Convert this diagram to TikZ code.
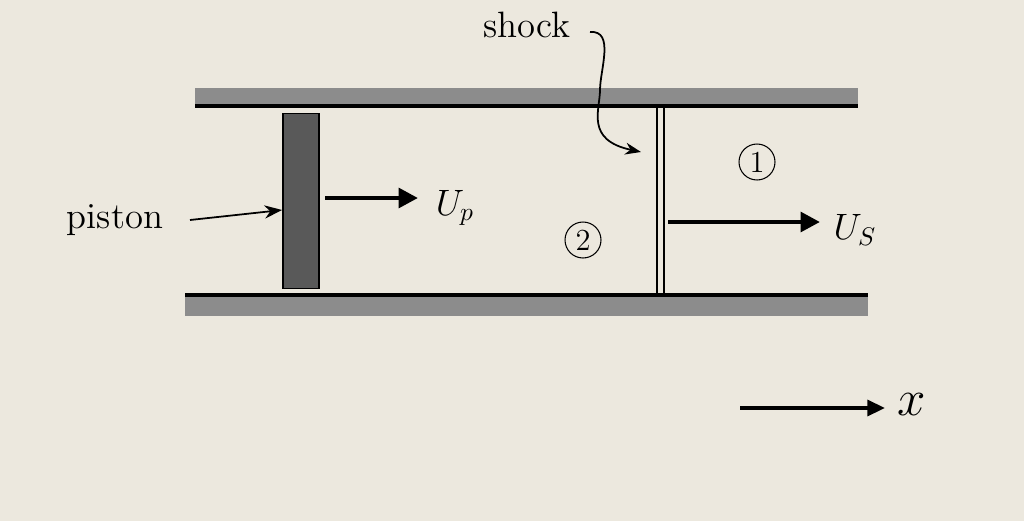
\documentclass[tikz,border=0pt]{standalone}
\usetikzlibrary{arrows.meta}
\begin{document}
\begin{tikzpicture}[x=0.02cm,y=-0.02cm,
  wall/.style={fill=black!45,draw=none},
  thick arrow/.style={line width=2.6pt,-{Triangle[length=11pt,width=11pt]}},
  lbl/.style={font=\Large,scale=1.45}]
\fill[color={rgb,255:red,236;green,232;blue,222}] (0,0) rectangle (1024,521);
\useasboundingbox (0,0) rectangle (1024,521);
% walls
\fill[wall] (195,88) rectangle (858,108);
\draw[line width=1.8pt] (195,106) -- (858,106);
\fill[wall] (185,294) rectangle (868,316);
\draw[line width=1.8pt] (185,295) -- (868,295);
% piston
\node[draw=black,line width=1pt,fill=black!65,minimum width=0.72cm,minimum height=3.5cm,inner sep=0pt] (piston) at (301,201) {};
\node[lbl] (pl) at (115,220) {piston};
\coordinate (pe) at (190,220);
\draw[line width=1pt,-{Stealth[length=10pt]}] (pe) -- (piston.west|-0,210);
% Up
\coordinate (ua) at (325,198);
\coordinate (ub) at (418,198);
\draw[thick arrow] (ua) -- (ub);
\node[lbl] (up) at (455,208) {$U_p$};
% shock
\draw[line width=0.8pt] (657,108) -- (657,294);
\draw[line width=0.8pt] (664,108) -- (664,294);
\node[lbl] (sh) at (527,25) {shock};
\coordinate (ss) at (590,32);
\coordinate (st) at (641,152);
\draw[line width=1pt,-{Stealth[length=9pt]}] (ss) .. controls (615,30) and (600,70) .. (600,90) .. controls (600,110) and (585,140) .. (st);
% states
\node[draw,circle,inner sep=1.5pt,font=\large,scale=1.45,line width=0.6pt] (s1) at (757,162) {1};
\node[draw,circle,inner sep=1.5pt,font=\large,scale=1.45,line width=0.6pt] (s2) at (583,240) {2};
% Us
\coordinate (sa) at (668,222);
\coordinate (sb) at (820,222);
\draw[thick arrow] (sa) -- (sb);
\node[lbl] (us) at (855,230) {$U_S$};
% x axis
\coordinate (xa) at (740,408);
\coordinate (xb) at (885,408);
\draw[line width=2pt,-{Triangle[length=10pt,width=9pt]}] (xa) -- (xb);
\node[font=\huge,scale=1.4] (xl) at (912,405) {$x$};
\end{tikzpicture}
\end{document}
